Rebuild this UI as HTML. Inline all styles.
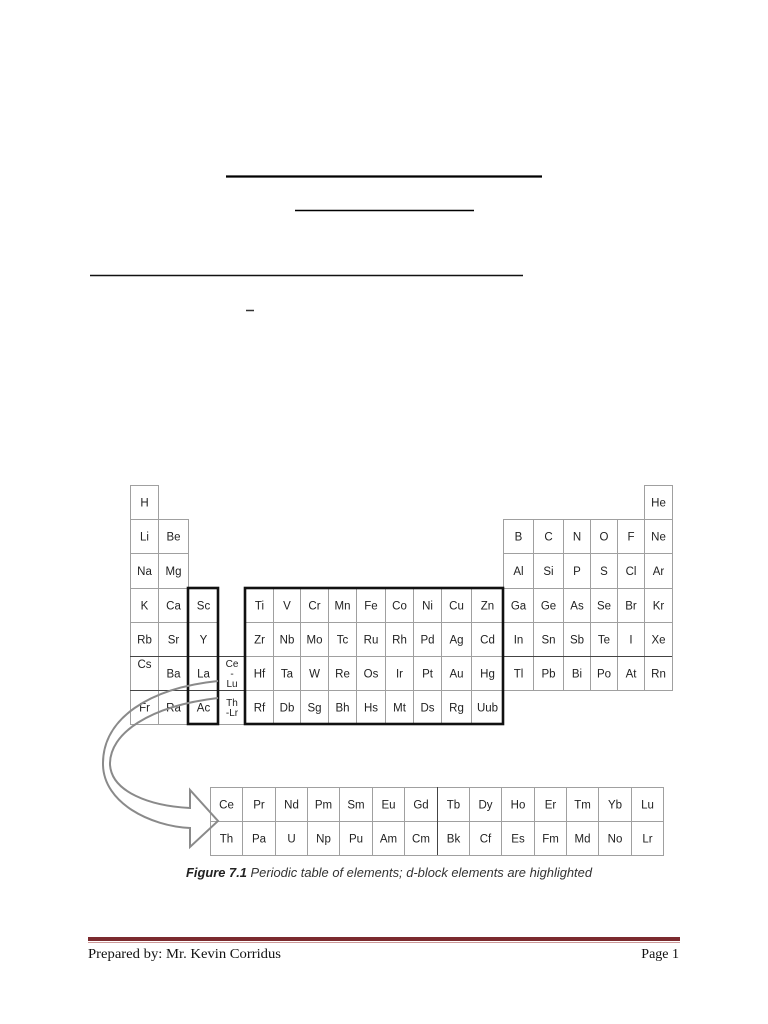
<!DOCTYPE html>
<html><head><meta charset="utf-8"><style>
html,body{margin:0;padding:0;background:#fff;}
svg{display:block;}
text{font-family:"Liberation Sans",sans-serif;}
</style></head><body>
<svg width="768" height="1024" viewBox="0 0 768 1024" xmlns="http://www.w3.org/2000/svg">
<rect width="768" height="1024" fill="#fff"/>
<line x1="226" y1="176.5" x2="542" y2="176.5" stroke="#000" stroke-width="2.2"/>
<line x1="295" y1="210.5" x2="474" y2="210.5" stroke="#000" stroke-width="1.4"/>
<line x1="90" y1="275.5" x2="523" y2="275.5" stroke="#111" stroke-width="1.4"/>
<line x1="246" y1="310.5" x2="254" y2="310.5" stroke="#333" stroke-width="1.5"/>

<g fill="none" stroke="#8a8a8a" stroke-width="2">
<path d="M218,681 C150,688 102,718 103,765 C104,803 150,826 190,828 L190,847 L218,821 L190,790 L190,808 C150,806 112,792 110,765 C109,733 150,706 218,698"/>
</g>

<text x="186" y="877" font-size="12.5" font-style="italic" fill="#333" textLength="406" lengthAdjust="spacingAndGlyphs"><tspan font-weight="bold" fill="#222">Figure 7.1</tspan>   Periodic table of elements; d-block elements are highlighted</text>

<rect x="88" y="937" width="592" height="4" fill="#7b2a2e"/>
<rect x="88" y="942" width="592" height="1" fill="#c99"/>
<text x="88" y="958" style="font-family:'Liberation Serif',serif;font-size:14px" fill="#111" textLength="193" lengthAdjust="spacingAndGlyphs">Prepared by: Mr. Kevin Corridus</text>
<text x="679" y="958" style="font-family:'Liberation Serif',serif;font-size:14px" fill="#111" text-anchor="end">Page 1</text>
</svg>
<script>
(function(){
var NS="http://www.w3.org/2000/svg";
var svg=document.querySelector('svg');
var g=document.createElementNS(NS,'g');
svg.insertBefore(g,svg.querySelector('g[fill="none"]'));
var R=[485,519,553,588,622,656,690,724];
var C=[130,158,188,218,245,273,300,328,356,385,413,441,471,503,533,563,590,617,644,672];
function cell(x,y,w,h,t,stroke,ty){
 var r=document.createElementNS(NS,'rect');
 r.setAttribute('x',x+.5);r.setAttribute('y',y+.5);r.setAttribute('width',w);r.setAttribute('height',h);
 r.setAttribute('fill','#fff');r.setAttribute('stroke',stroke||'#a0a0a0');r.setAttribute('stroke-width','1');
 g.appendChild(r);
 if(t){var lines=t.split('|');
  for(var i=0;i<lines.length;i++){
   var e=document.createElementNS(NS,'text');
   e.setAttribute('x',x+w/2+.5);
   var yy = lines.length==1 ? y+h/2+4.5 : y+h/2+4 +(i-(lines.length-1)/2)*10;
   if(ty!==undefined) yy=y+ty;
   e.setAttribute('y',yy);
   e.setAttribute('font-size',lines.length>1?'10':'11.5');
   e.setAttribute('text-anchor','middle');e.setAttribute('fill','#222');
   e.textContent=lines[i];g.appendChild(e);}
 }
}
var rows=[
 {0:'H',18:'He'},
 {0:'Li',1:'Be',13:'B',14:'C',15:'N',16:'O',17:'F',18:'Ne'},
 {0:'Na',1:'Mg',13:'Al',14:'Si',15:'P',16:'S',17:'Cl',18:'Ar'},
 {0:'K',1:'Ca',2:'Sc',4:'Ti',5:'V',6:'Cr',7:'Mn',8:'Fe',9:'Co',10:'Ni',11:'Cu',12:'Zn',13:'Ga',14:'Ge',15:'As',16:'Se',17:'Br',18:'Kr'},
 {0:'Rb',1:'Sr',2:'Y',4:'Zr',5:'Nb',6:'Mo',7:'Tc',8:'Ru',9:'Rh',10:'Pd',11:'Ag',12:'Cd',13:'In',14:'Sn',15:'Sb',16:'Te',17:'I',18:'Xe'},
 {0:'Cs',1:'Ba',2:'La',3:'Ce|-|Lu',4:'Hf',5:'Ta',6:'W',7:'Re',8:'Os',9:'Ir',10:'Pt',11:'Au',12:'Hg',13:'Tl',14:'Pb',15:'Bi',16:'Po',17:'At',18:'Rn'},
 {0:'Fr',1:'Ra',2:'Ac',3:'Th|-Lr',4:'Rf',5:'Db',6:'Sg',7:'Bh',8:'Hs',9:'Mt',10:'Ds',11:'Rg',12:'Uub'}
];
for(var r=0;r<rows.length;r++){for(var k in rows[r]){k=+k;
 var ty=(r==5&&k==0)?12:undefined;
 cell(C[k],R[r],C[k+1]-C[k],R[r+1]-R[r],rows[r][k],null,ty);}}
function line(x1,y1,x2,y2,s,w){var l=document.createElementNS(NS,'line');l.setAttribute('x1',x1);l.setAttribute('y1',y1);l.setAttribute('x2',x2);l.setAttribute('y2',y2);l.setAttribute('stroke',s);l.setAttribute('stroke-width',w);g.appendChild(l);}
line(130,656.5,245,656.5,'#444',1);line(130,690.5,245,690.5,'#444',1);
line(503,656.5,672,656.5,'#444',1);
function box(x,y,w,h){var b=document.createElementNS(NS,'rect');b.setAttribute('x',x);b.setAttribute('y',y);b.setAttribute('width',w);b.setAttribute('height',h);b.setAttribute('fill','none');b.setAttribute('stroke','#111');b.setAttribute('stroke-width','2.6');g.appendChild(b);}
box(188,588,30,136);box(245,588,258,136);
var L1=['Ce','Pr','Nd','Pm','Sm','Eu','Gd','Tb','Dy','Ho','Er','Tm','Yb','Lu'];
var L2=['Th','Pa','U','Np','Pu','Am','Cm','Bk','Cf','Es','Fm','Md','No','Lr'];
var w=453/14;
for(var i=0;i<14;i++){var x=Math.round(210+i*w),x2=Math.round(210+(i+1)*w);
 cell(x,787,x2-x,34,L1[i]);cell(x,821,x2-x,34,L2[i]);}
line(437.5,787,437.5,855,'#444',1);
})();
</script>
</body></html>
